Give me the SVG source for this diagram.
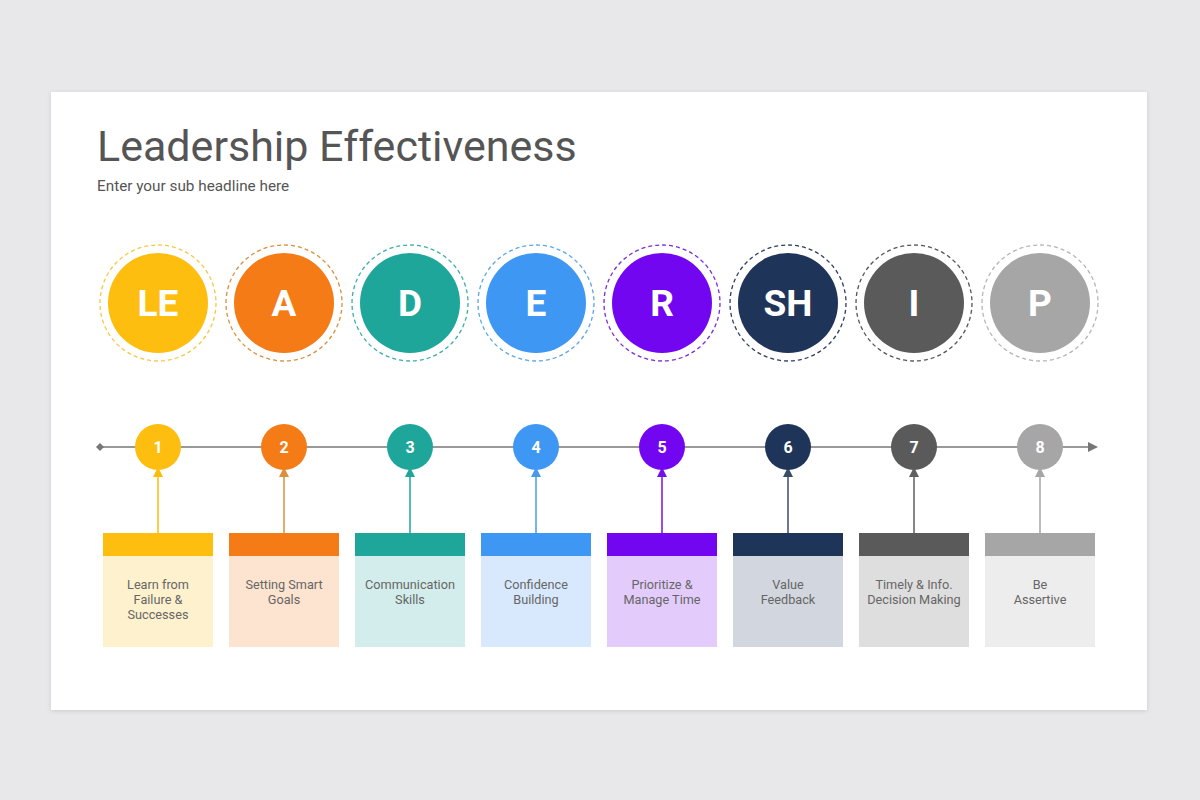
<svg xmlns="http://www.w3.org/2000/svg" width="1200" height="800" viewBox="0 0 1200 800">
<defs>
<filter id="sh" x="-5%" y="-5%" width="110%" height="110%"><feDropShadow dx="0" dy="1" stdDeviation="2" flood-color="#000" flood-opacity="0.12"/></filter>
<marker id="ah" viewBox="0 0 10 10" refX="5" refY="5" markerWidth="10" markerHeight="10" orient="auto" markerUnits="userSpaceOnUse"><path d="M0,0 L10,5 L0,10 z" fill="context-stroke"/></marker>
</defs>
<style>
.title{font-family:Roboto,"Liberation Sans",sans-serif;font-size:43px;fill:#555}
.sub{font-family:Roboto,"Liberation Sans",sans-serif;font-size:15.3px;fill:#555}
.big{font-family:Roboto,"Liberation Sans",sans-serif;font-size:37px;font-weight:bold;fill:#fff;text-anchor:middle}
.num{font-family:Roboto,"Liberation Sans",sans-serif;font-size:16px;font-weight:bold;fill:#fff;text-anchor:middle}
.lbl{font-family:Roboto,"Liberation Sans",sans-serif;font-size:12.7px;fill:#666;text-anchor:middle}
.ring{fill:none;stroke-width:1.3;stroke-dasharray:4 3}
.conn{stroke-width:1.5;fill:none}
</style>
<rect width="1200" height="800" fill="#e8e7e9"/>
<rect x="51" y="92" width="1096" height="618" fill="#fff" filter="url(#sh)"/>
<text class="title" x="97" y="161">Leadership Effectiveness</text>
<text class="sub" x="97" y="191">Enter your sub headline here</text>

<g id="timeline">
<line x1="100" y1="447" x2="1090" y2="447" stroke="#777" stroke-width="1.5"/>
<path d="M96,447 L100,443 L104,447 L100,451 z" fill="#777"/>
<path d="M1088,442 L1098,447 L1088,452 z" fill="#777"/>
</g>

<g id="connectors">
<line class="conn" x1="158" y1="533" x2="158" y2="472" stroke="#FBBC0A" marker-end="url(#ah)"/>
<line class="conn" x1="284" y1="533" x2="284" y2="472" stroke="#D9903A" marker-end="url(#ah)"/>
<line class="conn" x1="410" y1="533" x2="410" y2="472" stroke="#1EA69A" marker-end="url(#ah)"/>
<line class="conn" x1="536" y1="533" x2="536" y2="472" stroke="#4A9AE8" marker-end="url(#ah)"/>
<line class="conn" x1="662" y1="533" x2="662" y2="472" stroke="#7410E8" marker-end="url(#ah)"/>
<line class="conn" x1="788" y1="533" x2="788" y2="472" stroke="#3B4C68" marker-end="url(#ah)"/>
<line class="conn" x1="914" y1="533" x2="914" y2="472" stroke="#5F5F5F" marker-end="url(#ah)"/>
<line class="conn" x1="1040" y1="533" x2="1040" y2="472" stroke="#A6A6A6" marker-end="url(#ah)"/>
</g>

<g id="node1">
<circle cx="158" cy="303" r="58" class="ring" stroke="#F5C842"/>
<circle cx="158" cy="303" r="50" fill="#FDBE10"/>
<text class="big" x="158" y="316">LE</text>
<circle cx="158" cy="447" r="23" fill="#FDBE10"/>
<text class="num" x="158" y="453">1</text>
<rect x="103" y="533" width="110" height="23" fill="#FDBE10"/>
<rect x="103" y="556" width="110" height="91" fill="#FEF2CE"/>
<text class="lbl" x="158" y="589">Learn from</text>
<text class="lbl" x="158" y="604">Failure &amp;</text>
<text class="lbl" x="158" y="619">Successes</text>
</g>

<g id="node2">
<circle cx="284" cy="303" r="58" class="ring" stroke="#D9903A"/>
<circle cx="284" cy="303" r="50" fill="#F47B16"/>
<text class="big" x="284" y="316">A</text>
<circle cx="284" cy="447" r="23" fill="#F47B16"/>
<text class="num" x="284" y="453">2</text>
<rect x="229" y="533" width="110" height="23" fill="#F47B16"/>
<rect x="229" y="556" width="110" height="91" fill="#FDE4D0"/>
<text class="lbl" x="284" y="589">Setting Smart</text>
<text class="lbl" x="284" y="604">Goals</text>
</g>

<g id="node3">
<circle cx="410" cy="303" r="58" class="ring" stroke="#3AAFA5"/>
<circle cx="410" cy="303" r="50" fill="#1EA69A"/>
<text class="big" x="410" y="316">D</text>
<circle cx="410" cy="447" r="23" fill="#1EA69A"/>
<text class="num" x="410" y="453">3</text>
<rect x="355" y="533" width="110" height="23" fill="#1EA69A"/>
<rect x="355" y="556" width="110" height="91" fill="#D2EDEB"/>
<text class="lbl" x="410" y="589">Communication</text>
<text class="lbl" x="410" y="604">Skills</text>
</g>

<g id="node4">
<circle cx="536" cy="303" r="58" class="ring" stroke="#5AA6E8"/>
<circle cx="536" cy="303" r="50" fill="#3F97F4"/>
<text class="big" x="536" y="316">E</text>
<circle cx="536" cy="447" r="23" fill="#3F97F4"/>
<text class="num" x="536" y="453">4</text>
<rect x="481" y="533" width="110" height="23" fill="#3F97F4"/>
<rect x="481" y="556" width="110" height="91" fill="#D9E9FD"/>
<text class="lbl" x="536" y="589">Confidence</text>
<text class="lbl" x="536" y="604">Building</text>
</g>

<g id="node5">
<circle cx="662" cy="303" r="58" class="ring" stroke="#7A2BD6"/>
<circle cx="662" cy="303" r="50" fill="#7306F0"/>
<text class="big" x="662" y="316">R</text>
<circle cx="662" cy="447" r="23" fill="#7306F0"/>
<text class="num" x="662" y="453">5</text>
<rect x="607" y="533" width="110" height="23" fill="#7306F0"/>
<rect x="607" y="556" width="110" height="91" fill="#E3CCFC"/>
<text class="lbl" x="662" y="589">Prioritize &amp;</text>
<text class="lbl" x="662" y="604">Manage Time</text>
</g>

<g id="node6">
<circle cx="788" cy="303" r="58" class="ring" stroke="#2C3E5C"/>
<circle cx="788" cy="303" r="50" fill="#1F3459"/>
<text class="big" x="788" y="316">SH</text>
<circle cx="788" cy="447" r="23" fill="#1F3459"/>
<text class="num" x="788" y="453">6</text>
<rect x="733" y="533" width="110" height="23" fill="#1F3459"/>
<rect x="733" y="556" width="110" height="91" fill="#D2D6DE"/>
<text class="lbl" x="788" y="589">Value</text>
<text class="lbl" x="788" y="604">Feedback</text>
</g>

<g id="node7">
<circle cx="914" cy="303" r="58" class="ring" stroke="#555"/>
<circle cx="914" cy="303" r="50" fill="#5A5A5A"/>
<text class="big" x="914" y="316">I</text>
<circle cx="914" cy="447" r="23" fill="#5A5A5A"/>
<text class="num" x="914" y="453">7</text>
<rect x="859" y="533" width="110" height="23" fill="#5A5A5A"/>
<rect x="859" y="556" width="110" height="91" fill="#DEDEDE"/>
<text class="lbl" x="914" y="589">Timely &amp; Info.</text>
<text class="lbl" x="914" y="604">Decision Making</text>
</g>

<g id="node8">
<circle cx="1040" cy="303" r="58" class="ring" stroke="#B5B5B5"/>
<circle cx="1040" cy="303" r="50" fill="#A6A6A6"/>
<text class="big" x="1040" y="316">P</text>
<circle cx="1040" cy="447" r="23" fill="#A6A6A6"/>
<text class="num" x="1040" y="453">8</text>
<rect x="985" y="533" width="110" height="23" fill="#A6A6A6"/>
<rect x="985" y="556" width="110" height="91" fill="#EDEDED"/>
<text class="lbl" x="1040" y="589">Be</text>
<text class="lbl" x="1040" y="604">Assertive</text>
</g>
</svg>
